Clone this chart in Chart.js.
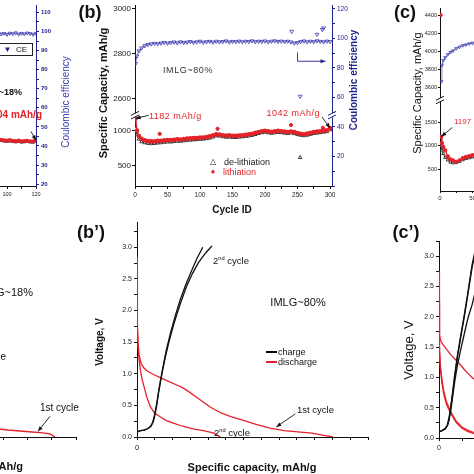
<!DOCTYPE html>
<html>
<head>
<meta charset="utf-8">
<script src="https://cdn.jsdelivr.net/npm/chart.js@4.4.1/dist/chart.umd.min.js"></script>
<style>
html, body { margin: 0; padding: 0; background: #fff; }
body { width: 474px; height: 474px; position: relative; overflow: hidden; font-family: 'Liberation Sans', Arial, sans-serif; color: #111; }
canvas { position: absolute; }
.t { position: absolute; white-space: nowrap; line-height: 1; }
.c { transform: translate(-50%, -50%); }
.r { transform: translate(-100%, -50%); }
.l { transform: translate(0, -50%); }
.v { transform: translate(-50%, -50%) rotate(-90deg); }
.b { font-weight: bold; }
.red { color: #e3232a; }
.navy { color: #23238e; }
.mk { position: absolute; height: 1.6px; }
sup { font-size: 60%; vertical-align: super; line-height: 0; }
</style>
</head>
<body>
<canvas id="pa" width="216" height="200" style="left:-150px;top:0"></canvas>
<canvas id="pb" width="320" height="200" style="left:60px;top:0"></canvas>
<canvas id="pc" width="300" height="210" style="left:380px;top:0"></canvas>
<canvas id="pa2" width="250" height="245" style="left:-160px;top:215px"></canvas>
<canvas id="pb2" width="300" height="245" style="left:80px;top:215px"></canvas>
<canvas id="pc2" width="300" height="230" style="left:380px;top:230px"></canvas>

<!-- top row texts -->
<div class="t b c" style="left:90px;top:12px;font-size:18px">(b)</div>
<div class="t b c" style="left:405px;top:12px;font-size:18px">(c)</div>
<div class="t b r" style="left:22px;top:92px;font-size:9px">IMLG~18%</div>
<div class="t b r red" style="left:42px;top:115px;font-size:10px">404 mAh/g</div>
<div class="t" style="left:-60px;top:43px;width:91px;height:11px;border:1px solid #222;font-size:8px;">
  <span style="position:absolute;right:5px;top:2px"><span class="navy">&#9660;</span>&nbsp; CE</span>
</div>
<div class="t v" style="left:66px;top:102px;font-size:10px;color:#3c3cb4">Coulombic efficiency</div>
<div class="t b v" style="left:103px;top:93px;font-size:11px">Specific Capacity, mAh/g</div>
<div class="t c" style="left:188px;top:70px;font-size:9px;letter-spacing:0.6px;color:#333">IMLG~80%</div>
<div class="t l red" style="left:149px;top:116px;font-size:9px;letter-spacing:0.5px">1182 mAh/g</div>
<div class="t r red" style="left:320px;top:113px;font-size:9px;letter-spacing:0.5px">1042 mAh/g</div>
<div class="t c" style="left:213px;top:162px;font-size:8px">&#9651;</div>
<div class="t l" style="left:224px;top:162px;font-size:9px;color:#222">de-lithiation</div>
<div class="t c red" style="left:213px;top:172px;font-size:8px">&#9679;</div>
<div class="t l red" style="left:223px;top:172px;font-size:9px">lithiation</div>
<div class="t b c" style="left:232px;top:210px;font-size:10px">Cycle ID</div>
<div class="t b v navy" style="left:354px;top:80px;font-size:10px">Coulombic efficiency</div>
<div class="t v" style="left:417px;top:93px;font-size:11px">Specific Capacity, mAh/g</div>
<div class="t l red" style="left:454px;top:122px;font-size:8px">1197 mAh/g</div>

<!-- bottom row texts -->
<div class="t b c" style="left:91px;top:232px;font-size:18px">(b&#8217;)</div>
<div class="t b c" style="left:406px;top:232px;font-size:18px">(c&#8217;)</div>
<div class="t r" style="left:33px;top:292px;font-size:11px">IMLG~18%</div>
<div class="t r" style="left:6px;top:357px;font-size:10px">discharge</div>
<div class="t l" style="left:40px;top:408px;font-size:10px">1st cycle</div>
<div class="t b r" style="left:23px;top:466px;font-size:11px">Specific capacity, mAh/g</div>
<div class="t b v" style="left:100px;top:342px;font-size:10px">Voltage, V</div>
<div class="t l" style="left:213px;top:261px;font-size:9.5px">2<sup>nd</sup> cycle</div>
<div class="t c" style="left:298px;top:302px;font-size:11px">IMLG~80%</div>
<div class="mk" style="left:266px;top:351px;width:11px;background:#000"></div>
<div class="t l" style="left:278px;top:352px;font-size:9px">charge</div>
<div class="mk" style="left:266px;top:361px;width:11px;background:#e3232a"></div>
<div class="t l" style="left:278px;top:362px;font-size:9px">discharge</div>
<div class="t l" style="left:297px;top:410px;font-size:9.5px">1st cycle</div>
<div class="t l" style="left:214px;top:433px;font-size:9.5px">2<sup>nd</sup> cycle</div>
<div class="t b c" style="left:252px;top:467px;font-size:11px">Specific capacity, mAh/g</div>
<div class="t v" style="left:408px;top:350px;font-size:13px">Voltage, V</div>

<script>
// ---- (a) cycling, right-hand end only
const cyclesA = [90, 92, 94, 96, 98, 100, 102, 104, 106, 108, 110, 112, 114, 116, 118, 120];
const lithA   = [410, 412, 408, 410, 405, 402, 406, 400, 398, 402, 396, 399, 401, 397, 395, 404];
const delithA = [403, 405, 401, 404, 398, 396, 399, 394, 391, 395, 389, 392, 395, 390, 388, 397];
const ceA     = [98.8, 98.6, 99.2, 98.7, 99.0, 98.5, 99.1, 98.8, 99.3, 98.6, 99.0, 98.7, 99.2, 98.9, 98.5, 99.0];

// ---- (b) cycling, IMLG~80%
const cyclesB = [1, 3, 6, 10, 15, 20, 25, 30, 35, 40, 45, 50, 55, 60, 65, 70, 75, 80, 85, 90, 95, 100,
  105, 110, 115, 120, 125, 130, 135, 140, 145, 150, 155, 160, 165, 170, 175, 180, 185, 190, 195, 200,
  205, 210, 215, 220, 225, 230, 235, 240, 245, 250, 255, 260, 265, 270, 275, 280, 285, 290, 295, 300];
const lithB = [1182, 1005, 925, 885, 865, 852, 848, 850, 855, 858, 862, 868, 866, 872, 878, 876, 882, 888, 892, 895, 898, 902,
  905, 912, 920, 935, 952, 948, 938, 932, 935, 930, 928, 934, 938, 944, 950, 958, 972, 985, 996, 1002,
  995, 988, 994, 1000, 996, 990, 985, 992, 982, 968, 958, 952, 960, 972, 984, 990, 996, 1004, 1010, 1042];
const delithB = [1035, 945, 880, 842, 828, 818, 815, 818, 824, 828, 834, 840, 838, 845, 850, 850, 856, 862, 866, 870, 873, 878,
  880, 887, 895, 910, 928, 925, 915, 908, 910, 906, 904, 910, 914, 920, 926, 934, 948, 962, 973, 980,
  972, 966, 972, 978, 974, 968, 963, 970, 960, 946, 936, 930, 938, 950, 962, 968, 975, 982, 988, 1015];
const ceB = [83, 88, 91.5, 93.5, 95, 95.8, 96.2, 96.6, 96.3, 96.8, 97.2, 96.7, 97.1, 97.5, 96.9, 97.6, 97.1, 97.4, 97.8, 97.2, 97.6, 98.0,
  97.3, 97.7, 97.9, 97.4, 98.0, 97.6, 97.8, 98.2, 97.5, 97.9, 97.7, 98.1, 97.6, 98.0, 97.8, 98.3, 97.7, 98.0, 97.9, 98.2,
  97.6, 98.0, 98.3, 97.8, 98.1, 97.7, 98.0, 97.5, 96.8, 97.1, 97.8, 98.2, 97.6, 98.0, 97.7, 98.3, 97.9, 97.6, 98.1, 97.8];
const ceOutCycB = [241, 254, 280, 288, 290];
const ceOutB = [104.7, 60.7, 102.7, 106, 107];
const lithOutCycB = [38, 127, 240, 289];
const lithOutB = [957, 1030, 1085, 1045];
const delithOutCycB = [254];
const delithOutB = [614];
const capLowTicksB = [500, 1000];
const capHighTicksB = [2600, 2800, 3000];

// ---- (c) cycling, first cycles only
const cyclesC = [2, 3, 5, 8, 12, 16, 20, 25, 30, 35, 40, 45, 50, 55, 60];
const lithC   = [1197, 1060, 980, 910, 780, 720, 700, 670, 700, 745, 770, 790, 810, 820, 828];
const delithC = [1000, 915, 840, 760, 705, 660, 645, 650, 675, 710, 735, 752, 768, 778, 785];
const ceC     = [73, 84, 87, 89, 91, 92.5, 93.5, 95, 96, 97, 97.5, 98.2, 98.6, 98.8, 99];
const firstCycC = [1];
const firstCapC = [4400];
const capLowTicksC = [500, 1000, 1500];
const capHighTicksC = [3600, 3800, 4000, 4200, 4400];

// ---- (a') voltage profile, tail of 1st discharge
const capA2 = [1150, 1250, 1350, 1450, 1520, 1600, 1642];
const vA2   = [0.13, 0.11, 0.095, 0.08, 0.07, 0.05, 0.0];

// ---- (b') voltage profiles
const capD1B = [0, 3, 8, 15, 30, 60, 100, 150, 250, 350, 450, 550, 650, 750, 850, 950, 1050, 1200, 1350, 1500, 1700, 1900, 2100, 2300, 2500, 2650, 2800];
const vD1B   = [2.85, 2.3, 1.8, 1.5, 1.3, 1.16, 1.09, 1.04, 0.98, 0.93, 0.88, 0.83, 0.78, 0.71, 0.63, 0.55, 0.47, 0.38, 0.32, 0.27, 0.2, 0.14, 0.1, 0.08, 0.06, 0.03, 0.0];
const capD2B = [0, 3, 8, 15, 30, 50, 75, 100, 140, 190, 250, 330, 420, 520, 650, 800, 950, 1100, 1190];
const vD2B   = [2.6, 2.0, 1.7, 1.45, 1.22, 1.05, 0.9, 0.8, 0.63, 0.48, 0.38, 0.32, 0.26, 0.22, 0.17, 0.13, 0.1, 0.06, 0.0];
const capC1B = [0, 50, 100, 150, 190, 220, 245, 265, 285, 305, 330, 370, 420, 480, 550, 620, 700, 780, 860, 940];
const vC1B   = [0.08, 0.1, 0.11, 0.13, 0.16, 0.22, 0.32, 0.43, 0.55, 0.7, 0.86, 1.1, 1.38, 1.65, 1.93, 2.18, 2.42, 2.63, 2.83, 3.0];
const capC2B = [0, 50, 100, 150, 200, 235, 262, 285, 305, 330, 360, 400, 460, 530, 610, 700, 790, 880, 980, 1070];
const vC2B   = [0.08, 0.1, 0.11, 0.13, 0.17, 0.25, 0.38, 0.52, 0.68, 0.84, 1.02, 1.24, 1.52, 1.8, 2.08, 2.36, 2.58, 2.76, 2.91, 3.02];

// ---- (c') voltage profiles, start only
const capD1C = [0, 5, 15, 40, 80, 150, 250, 350, 450, 550, 650, 760];
const vD1C   = [2.75, 2.0, 1.7, 1.6, 1.55, 1.48, 1.38, 1.3, 1.22, 1.13, 1.05, 0.97];
const capD2C = [0, 5, 15, 30, 65, 110, 170, 260, 370, 500, 620, 760];
const vD2C   = [2.3, 1.9, 1.5, 1.2, 0.96, 0.75, 0.58, 0.43, 0.28, 0.18, 0.13, 0.09];
const vD3C   = [2.2, 1.8, 1.42, 1.14, 0.9, 0.7, 0.54, 0.4, 0.26, 0.16, 0.11, 0.07];
const capCC  = [0, 60, 130, 180, 220, 260, 300, 340, 400, 470, 550, 630, 720, 800];
const vC1C   = [0.1, 0.12, 0.15, 0.2, 0.32, 0.51, 0.75, 1.0, 1.33, 1.65, 2.0, 2.38, 2.82, 3.1];
const vC2C   = [0.1, 0.12, 0.15, 0.21, 0.34, 0.54, 0.78, 1.03, 1.36, 1.68, 2.03, 2.41, 2.86, 3.14];
const vC3C   = [0.1, 0.12, 0.15, 0.2, 0.3, 0.48, 0.7, 0.92, 1.2, 1.45, 1.72, 1.98, 2.2, 2.45];

const RED = '#e3232a', NAVY = '#23238e', BLUE = '#3b3bb0', NONE = 'rgba(255,255,255,0)';

Chart.defaults.font.family = "'Liberation Sans', Arial, sans-serif";
Chart.defaults.font.size = 8;
Chart.defaults.color = '#222';

const pairs = (xs, ys) => xs.map((x, i) => ({ x: x, y: ys[i] }));
const fixW = w => s => { s.width = w; };
const fixH = h => s => { s.height = h; };
const only = list => s => { s.ticks = list.map(v => ({ value: v })); };

function drawArrow(ctx, pts, color) {
  ctx.save();
  ctx.strokeStyle = color; ctx.fillStyle = color; ctx.lineWidth = 0.9;
  ctx.beginPath();
  pts.forEach((p, i) => i ? ctx.lineTo(p[0], p[1]) : ctx.moveTo(p[0], p[1]));
  ctx.stroke();
  const [x1, y1] = pts[pts.length - 2], [x2, y2] = pts[pts.length - 1];
  const a = Math.atan2(y2 - y1, x2 - x1), c = Math.cos(a), s = Math.sin(a);
  ctx.beginPath();
  ctx.moveTo(x2, y2);
  ctx.lineTo(x2 - 5 * c + 2 * s, y2 - 5 * s - 2 * c);
  ctx.lineTo(x2 - 5 * c - 2 * s, y2 - 5 * s + 2 * c);
  ctx.closePath(); ctx.fill();
  ctx.restore();
}

// arrows (tip at data point) and axis break marks
Chart.register({
  id: 'decor',
  afterDatasetsDraw(chart, args, opts) {
    const ctx = chart.ctx;
    (opts.arrows || []).forEach(a => {
      const xs = chart.scales.x, ys = chart.scales[a.axis];
      let pts = a.path.map(p => [xs.getPixelForValue(p[0]), ys.getPixelForValue(p[1])]);
      if (a.tail) pts = [[pts[0][0] + a.tail[0], pts[0][1] + a.tail[1]], pts[0]];
      drawArrow(ctx, pts, a.color || '#111');
    });
    (opts.breaks || []).forEach(b => {
      const x = b.side === 'left' ? chart.chartArea.left : chart.chartArea.right;
      const y = chart.scales[b.axis].top;
      ctx.save();
      ctx.fillStyle = '#fff'; ctx.fillRect(x - 1.5, y - 2, 3, 4);
      ctx.strokeStyle = b.color || '#111'; ctx.lineWidth = 1;
      [-1.8, 1.8].forEach(d => {
        ctx.beginPath(); ctx.moveTo(x - 4, y + d + 2); ctx.lineTo(x + 4, y + d - 2); ctx.stroke();
      });
      ctx.restore();
    });
  }
});

function ax(o) {
  return Object.assign({}, o, {
    grid: Object.assign({ drawOnChartArea: false, tickLength: 3, color: '#111' }, o.grid || {}),
    border: Object.assign({ color: '#111' }, o.border || {}),
    ticks: Object.assign({ padding: 1, color: '#222', maxRotation: 0, autoSkip: false, includeBounds: false, callback: v => String(v) }, o.ticks || {})
  });
}

function options(pad, scales, decor) {
  return {
    responsive: false, animation: false, events: [],
    layout: { padding: pad, autoPadding: false },
    plugins: { legend: { display: false }, tooltip: { enabled: false }, decor: decor || {} },
    scales: scales
  };
}

const every = (step, fmt) => v => (Math.abs(v / step - Math.round(v / step)) < 1e-6 ? fmt(v) : '');
const plain = v => String(v);
const oneDec = v => v.toFixed(1);

// ---------- (a)
new Chart(document.getElementById('pa'), {
  type: 'line',
  data: { datasets: [
    { data: pairs(cyclesA, lithA), yAxisID: 'yCap', borderColor: RED, backgroundColor: RED, borderWidth: 1.2, pointRadius: 1.5, order: 1 },
    { data: pairs(cyclesA, delithA), yAxisID: 'yCap', borderColor: '#111', backgroundColor: '#fff', borderWidth: 0.8, pointStyle: 'triangle', pointRadius: 1.9, pointBorderWidth: 0.8, order: 2 },
    { data: pairs(cyclesA, ceA), yAxisID: 'yCE', borderColor: BLUE, backgroundColor: NONE, borderWidth: 0.6, pointStyle: 'triangle', pointRotation: 180, pointRadius: 2, pointBorderWidth: 0.8, order: 3 }
  ] },
  options: options({ left: 12, top: 3, right: 0, bottom: 0 }, {
    x: ax({ type: 'linear', min: 0, max: 120, afterFit: fixH(14), ticks: { stepSize: 10, font: { size: 5.5 }, padding: 2, callback: every(20, plain) } }),
    yCap: { type: 'linear', axis: 'y', position: 'left', display: false, min: 0, max: 1600 },
    yCE: ax({ type: 'linear', axis: 'y', position: 'right', min: 19, max: 113.6, afterFit: fixW(30),
      grid: { color: NAVY }, border: { color: NAVY },
      ticks: { stepSize: 5, color: NAVY, font: { size: 6, weight: 'bold' }, padding: 2, callback: every(10, plain) } })
  }, { arrows: [{ axis: 'yCap', path: [[120, 404]], tail: [-5, -9] }] })
});

// ---------- (b)
new Chart(document.getElementById('pb'), {
  type: 'line',
  data: { datasets: [
    { data: pairs(cyclesB, lithB), yAxisID: 'yLow', borderColor: RED, backgroundColor: RED, borderWidth: 1.4, pointRadius: 1.6, order: 1 },
    { data: pairs(cyclesB, delithB), yAxisID: 'yLow', borderColor: '#111', backgroundColor: '#fff', borderWidth: 0.8, pointStyle: 'triangle', pointRadius: 2, pointBorderWidth: 0.8, order: 2 },
    { data: pairs(cyclesB, ceB), yAxisID: 'yCE', borderColor: BLUE, backgroundColor: NONE, borderWidth: 0.6, pointStyle: 'triangle', pointRotation: 180, pointRadius: 2.2, pointBorderWidth: 0.8, order: 3 },
    { data: pairs(ceOutCycB, ceOutB), yAxisID: 'yCE', showLine: false, borderColor: BLUE, backgroundColor: NONE, pointStyle: 'triangle', pointRotation: 180, pointRadius: 2.2, pointBorderWidth: 0.8 },
    { data: pairs(lithOutCycB, lithOutB), yAxisID: 'yLow', showLine: false, borderColor: RED, backgroundColor: RED, pointRadius: 1.6 },
    { data: pairs(delithOutCycB, delithOutB), yAxisID: 'yLow', showLine: false, borderColor: '#111', backgroundColor: '#fff', pointStyle: 'triangle', pointRadius: 2, pointBorderWidth: 0.8 }
  ] },
  options: options({ left: 0, top: 3, right: 0, bottom: 0 }, {
    x: ax({ type: 'linear', min: 0, max: 303, afterFit: fixH(14), ticks: { stepSize: 25, font: { size: 6.5 }, padding: 2, callback: every(50, plain) } }),
    yLow: ax({ type: 'linear', axis: 'y', position: 'left', stack: 'capB', stackWeight: 72, min: 200, max: 1229,
      afterFit: fixW(75), afterBuildTicks: only(capLowTicksB), ticks: { font: { size: 8 } } }),
    yHigh: ax({ type: 'linear', axis: 'y', position: 'left', stack: 'capB', stackWeight: 111, min: 2525, max: 3013,
      afterFit: fixW(75), afterBuildTicks: only(capHighTicksB), ticks: { font: { size: 8 } } }),
    yCE: ax({ type: 'linear', axis: 'y', position: 'right', min: 0, max: 122, afterFit: fixW(48),
      grid: { color: NAVY }, border: { color: NAVY },
      ticks: { stepSize: 10, color: NAVY, font: { size: 6.5 }, padding: 2, callback: v => (v > 0 && v % 20 === 0 ? String(v) : '') } })
  }, {
    arrows: [
      { axis: 'yLow', path: [[1, 1182]], tail: [13, -3] },
      { axis: 'yLow', path: [[300, 1042]], tail: [-8, -11] },
      { axis: 'yCE', path: [[250, 90.5], [250, 84.5], [293, 84.5]], color: NAVY }
    ],
    breaks: [{ side: 'left', axis: 'yLow' }, { side: 'right', axis: 'yLow', color: NAVY }]
  })
});

// ---------- (c)
new Chart(document.getElementById('pc'), {
  type: 'line',
  data: { datasets: [
    { data: pairs(cyclesC, lithC), yAxisID: 'yLow', borderColor: RED, backgroundColor: RED, borderWidth: 1.3, pointRadius: 1.5, order: 1 },
    { data: pairs(cyclesC, delithC), yAxisID: 'yLow', borderColor: '#111', backgroundColor: '#fff', borderWidth: 0.8, pointStyle: 'triangle', pointRadius: 1.8, pointBorderWidth: 0.8, order: 2 },
    { data: pairs(cyclesC, ceC), yAxisID: 'yCE', borderColor: BLUE, backgroundColor: NONE, borderWidth: 0.6, pointStyle: 'triangle', pointRotation: 180, pointRadius: 1.8, pointBorderWidth: 0.8, order: 3 },
    { data: pairs(firstCycC, firstCapC), yAxisID: 'yHigh', showLine: false, borderColor: RED, backgroundColor: RED, pointRadius: 1.6 }
  ] },
  options: options({ left: 0, top: 8, right: 43, bottom: 0 }, {
    x: ax({ type: 'linear', min: 0, max: 303, afterFit: fixH(19), grid: { tickLength: 2 },
      ticks: { stepSize: 25, font: { size: 6 }, padding: 2, callback: every(50, plain) } }),
    yLow: ax({ type: 'linear', axis: 'y', position: 'left', stack: 'capC', stackWeight: 91, min: 60, max: 1960,
      afterFit: fixW(60), afterBuildTicks: only(capLowTicksC), grid: { tickLength: 2 }, ticks: { font: { size: 5.5 } } }),
    yHigh: ax({ type: 'linear', axis: 'y', position: 'left', stack: 'capC', stackWeight: 92, min: 3456, max: 4478,
      afterFit: fixW(60), afterBuildTicks: only(capHighTicksC), grid: { tickLength: 2 }, ticks: { font: { size: 5.5 } } }),
    yCE: { type: 'linear', axis: 'y', position: 'right', display: false, min: 0, max: 122 }
  }, {
    arrows: [{ axis: 'yLow', path: [[2, 1197]], tail: [11, -9] }],
    breaks: [{ side: 'left', axis: 'yLow' }]
  })
});

// ---------- (a')
new Chart(document.getElementById('pa2'), {
  type: 'line',
  data: { datasets: [
    { data: pairs(capA2, vA2), borderColor: RED, borderWidth: 1.4, pointRadius: 0 }
  ] },
  options: options({ left: 18, top: 7, right: 14, bottom: 0 }, {
    x: ax({ type: 'linear', min: 0, max: 1817, afterFit: fixH(23),
      ticks: { stepSize: 200, font: { size: 6 }, padding: 3, callback: every(400, plain) } }),
    y: { type: 'linear', position: 'left', display: false, min: 0, max: 3.4 }
  }, { arrows: [{ axis: 'y', path: [[1500, 0.09]], tail: [12, -15] }] })
});

// ---------- (b')
const curve = (c, v, color) => ({ data: pairs(c, v), borderColor: color, borderWidth: 1.3, pointRadius: 0 });
new Chart(document.getElementById('pb2'), {
  type: 'line',
  data: { datasets: [
    curve(capC1B, vC1B, '#111'),
    curve(capC2B, vC2B, '#111'),
    curve(capD1B, vD1B, RED),
    curve(capD2B, vD2B, RED)
  ] },
  options: options({ left: 0, top: 7, right: 12, bottom: 0 }, {
    x: ax({ type: 'linear', min: 0, max: 3300, afterFit: fixH(23),
      ticks: { stepSize: 250, font: { size: 7.5 }, padding: 3, callback: every(500, plain) } }),
    y: ax({ type: 'linear', position: 'left', min: 0, max: 3.4, afterFit: fixW(57),
      ticks: { stepSize: 0.25, font: { size: 7 }, padding: 2, callback: every(0.5, oneDec) } })
  }, { arrows: [{ axis: 'y', path: [[1990, 0.16]], tail: [19, -13] }] })
});

// ---------- (c')
new Chart(document.getElementById('pc2'), {
  type: 'line',
  data: { datasets: [
    curve(capCC, vC1C, '#111'),
    curve(capCC, vC2C, '#111'),
    curve(capCC, vC3C, '#111'),
    curve(capD1C, vD1C, RED),
    curve(capD2C, vD2C, RED),
    curve(capD2C, vD3C, RED)
  ] },
  options: options({ left: 0, top: 11, right: 57, bottom: 0 }, {
    x: ax({ type: 'linear', min: 0, max: 4000, afterFit: fixH(22),
      ticks: { stepSize: 500, font: { size: 7 }, padding: 3, callback: every(1000, plain) } }),
    y: ax({ type: 'linear', position: 'left', min: 0, max: 3.25, afterFit: fixW(59),
      ticks: { stepSize: 0.25, font: { size: 7 }, padding: 2, callback: every(0.5, oneDec) } })
  })
});
</script>
</body>
</html>
